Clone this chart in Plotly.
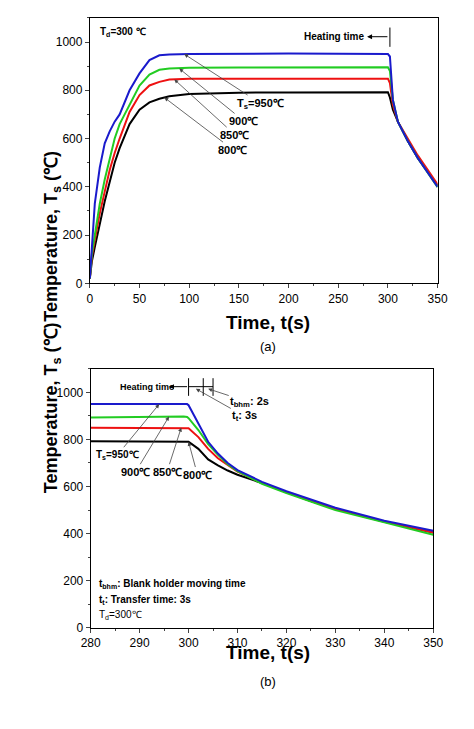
import plotly.graph_objects as go

# ---- panel (a) data ----
t_a = [0, 2, 5, 10, 15, 20, 25, 30, 40, 50, 60, 70, 80, 100, 150, 200, 250, 300, 302, 305, 310, 320, 330, 340, 350]
T950_a = [20, 150, 330, 480, 580, 630, 670, 700, 800, 870, 925, 945, 948, 950, 952, 952, 951, 950, 940, 760, 670, 590, 520, 460, 400]
T900_a = [20, 120, 200, 330, 430, 520, 600, 660, 740, 820, 865, 885, 890, 893, 894, 894, 895, 895, 880, 760, 670, 590, 520, 458, 398]
T850_a = [20, 110, 180, 290, 380, 470, 540, 600, 710, 780, 820, 835, 845, 848, 848, 848, 848, 848, 830, 740, 670, 600, 530, 470, 410]
T800_a = [20, 90, 150, 250, 340, 420, 500, 560, 660, 720, 750, 765, 775, 785, 790, 791, 792, 792, 770, 720, 670, 590, 520, 460, 405]

# ---- panel (b) data ----
t_b = [280, 290, 296, 299, 299.7, 300, 302, 304, 306, 308, 310, 315, 320, 325, 330, 340, 350]
T950_b = [950, 950, 950, 950, 950, 945, 870, 790, 740, 700, 670, 620, 580, 545, 510, 455, 412]
T900_b = [893, 895, 898, 897, 895, 890, 840, 780, 735, 695, 665, 612, 572, 535, 500, 448, 395]
T850_b = [850, 850, 850, 850, 850, 847, 810, 760, 720, 690, 663, 615, 575, 538, 505, 452, 405]
T800_b = [792, 792, 792, 792, 792, 790, 760, 715, 690, 668, 650, 615, 575, 538, 505, 450, 405]

colors = {"950": "#1a1acc", "900": "#22cc22", "850": "#ee1111", "800": "#000000"}

fig = go.Figure()
for name, ya, yb in [("800", T800_a, T800_b), ("850", T850_a, T850_b), ("900", T900_a, T900_b), ("950", T950_a, T950_b)]:
    fig.add_trace(go.Scatter(x=t_a, y=ya, mode="lines", line=dict(color=colors[name], width=2), xaxis="x", yaxis="y", showlegend=False))
    fig.add_trace(go.Scatter(x=t_b, y=yb, mode="lines", line=dict(color=colors[name], width=2), xaxis="x2", yaxis="y2", showlegend=False))

W, H = 458, 713
tickfont = dict(family="Arial", size=12, color="black")
ax_common = dict(showline=True, linecolor="black", linewidth=1, mirror=True, ticks="outside", ticklen=4,
                 tickfont=tickfont, showgrid=False, zeroline=False,
                 minor=dict(ticks="outside", ticklen=2, showgrid=False))
fig.update_layout(
    width=W, height=H, margin=dict(l=0, r=0, t=0, b=0),
    plot_bgcolor="white", paper_bgcolor="white",
    xaxis=dict(domain=[0.164, 0.958], range=[0, 350], dtick=50, anchor="y", **ax_common),
    yaxis=dict(domain=[0.610, 0.986], range=[0, 1100], tickvals=[0, 200, 400, 600, 800, 1000], anchor="x", **ax_common),
    xaxis2=dict(domain=[0.166, 0.948], range=[280, 350], dtick=10, anchor="y2", **ax_common),
    yaxis2=dict(domain=[0.122, 0.489], range=[0, 1100], tickvals=[0, 200, 400, 600, 800, 1000], anchor="x2", **ax_common),
)
fig.update_layout(xaxis_minor_dtick=25, yaxis_minor_dtick=100, xaxis2_minor_dtick=5, yaxis2_minor_dtick=100)

F = "Arial"
ann = []
def txt(x, y, text, xr="x", yr="y", size=11, bold=True, xanchor="center"):
    ann.append(dict(x=x, y=y, xref=xr, yref=yr, text=f"<b>{text}</b>" if bold else text, showarrow=False,
                    font=dict(family=F, size=size, color="black"), xanchor=xanchor))
def arr(x, y, ax, ay, text, xr="x", yr="y", size=11):
    ann.append(dict(x=x, y=y, ax=ax, ay=ay, xref=xr, yref=yr, axref=xr, ayref=yr, text=f"<b>{text}</b>",
                    showarrow=True, arrowhead=2, arrowsize=1, arrowwidth=0.8, arrowcolor="#444",
                    font=dict(family=F, size=size, color="black")))

# panel a
txt(8, 1043, "T<sub>d</sub>=300 ℃", xanchor="left", size=10)
arr(95, 950, 172, 745, "T<sub>s</sub>=950℃")
arr(90, 890, 155, 673, "900℃")
arr(85, 845, 146, 616, "850℃")
arr(75, 770, 144, 554, "800℃")
txt(278, 1022, "Heating time", xanchor="right", size=10)
ann.append(dict(x=279, y=1022, ax=301, ay=1022, xref="x", yref="y", axref="x", ayref="y", text="",
                showarrow=True, arrowhead=2, arrowwidth=1, arrowcolor="black"))
# panel b
txt(285.5, 1024, "Heating time", xr="x2", yr="y2", xanchor="left", size=9)
ann.append(dict(x=296, y=1024, ax=300, ay=1024, xref="x2", yref="y2", axref="x2", ayref="y2", text="",
                showarrow=True, arrowhead=2, arrowwidth=1, arrowcolor="black"))
arr(300, 790, 301.8, 651, "800℃", xr="x2", yr="y2")
arr(298.5, 850, 295.6, 663, "850℃", xr="x2", yr="y2")
arr(296, 897, 289.2, 663, "900℃", xr="x2", yr="y2")
arr(294, 950, 285.5, 735, "T<sub>s</sub>=950℃", xr="x2", yr="y2", size=10)
arr(304, 1015, 312.5, 957, "t<sub>bhm</sub>: 2s", xr="x2", yr="y2")
arr(301.5, 1015, 311.5, 898, "t<sub>t</sub>: 3s", xr="x2", yr="y2")
txt(281.2, 185, "t<sub>bhm</sub>: Blank holder moving time", xr="x2", yr="y2", xanchor="left", size=10)
txt(281.2, 118, "t<sub>t</sub>: Transfer time: 3s", xr="x2", yr="y2", xanchor="left", size=10)
txt(281.2, 55, "T<sub>d</sub>=300℃", xr="x2", yr="y2", xanchor="left", size=10, bold=False)

# axis titles and captions
for py in [318, 664]:
    ann.append(dict(x=0.57, y=1 - py / H, xref="paper", yref="paper", text="<b>Time, t(s)</b>", showarrow=False,
                    font=dict(family=F, size=19, color="black")))
for py, cap in [(342, "(a)"), (690, "(b)")]:
    ann.append(dict(x=0.57, y=1 - py / H, xref="paper", yref="paper", text=cap, showarrow=False,
                    font=dict(family=F, size=13, color="black")))
for py in [142, 492]:
    ann.append(dict(x=0.048, y=1 - py / H, xref="paper", yref="paper", text="<b>Temperature, T<sub>s</sub> (℃)</b>",
                    showarrow=False, textangle=-90, font=dict(family=F, size=18, color="black")))
fig.update_layout(annotations=ann)

shapes = [
    dict(type="line", xref="x", yref="y", x0=302, x1=302, y0=980, y1=1060, line=dict(color="black", width=1)),
    dict(type="line", xref="x2", yref="y2", x0=300, x1=300, y0=985, y1=1060, line=dict(color="black", width=1)),
    dict(type="line", xref="x2", yref="y2", x0=303, x1=303, y0=985, y1=1060, line=dict(color="black", width=1)),
    dict(type="line", xref="x2", yref="y2", x0=305, x1=305, y0=985, y1=1060, line=dict(color="black", width=1)),
    dict(type="line", xref="x2", yref="y2", x0=300, x1=305, y0=1024, y1=1024, line=dict(color="black", width=1)),
]
fig.update_layout(shapes=shapes)
fig.write_html("out.html")
